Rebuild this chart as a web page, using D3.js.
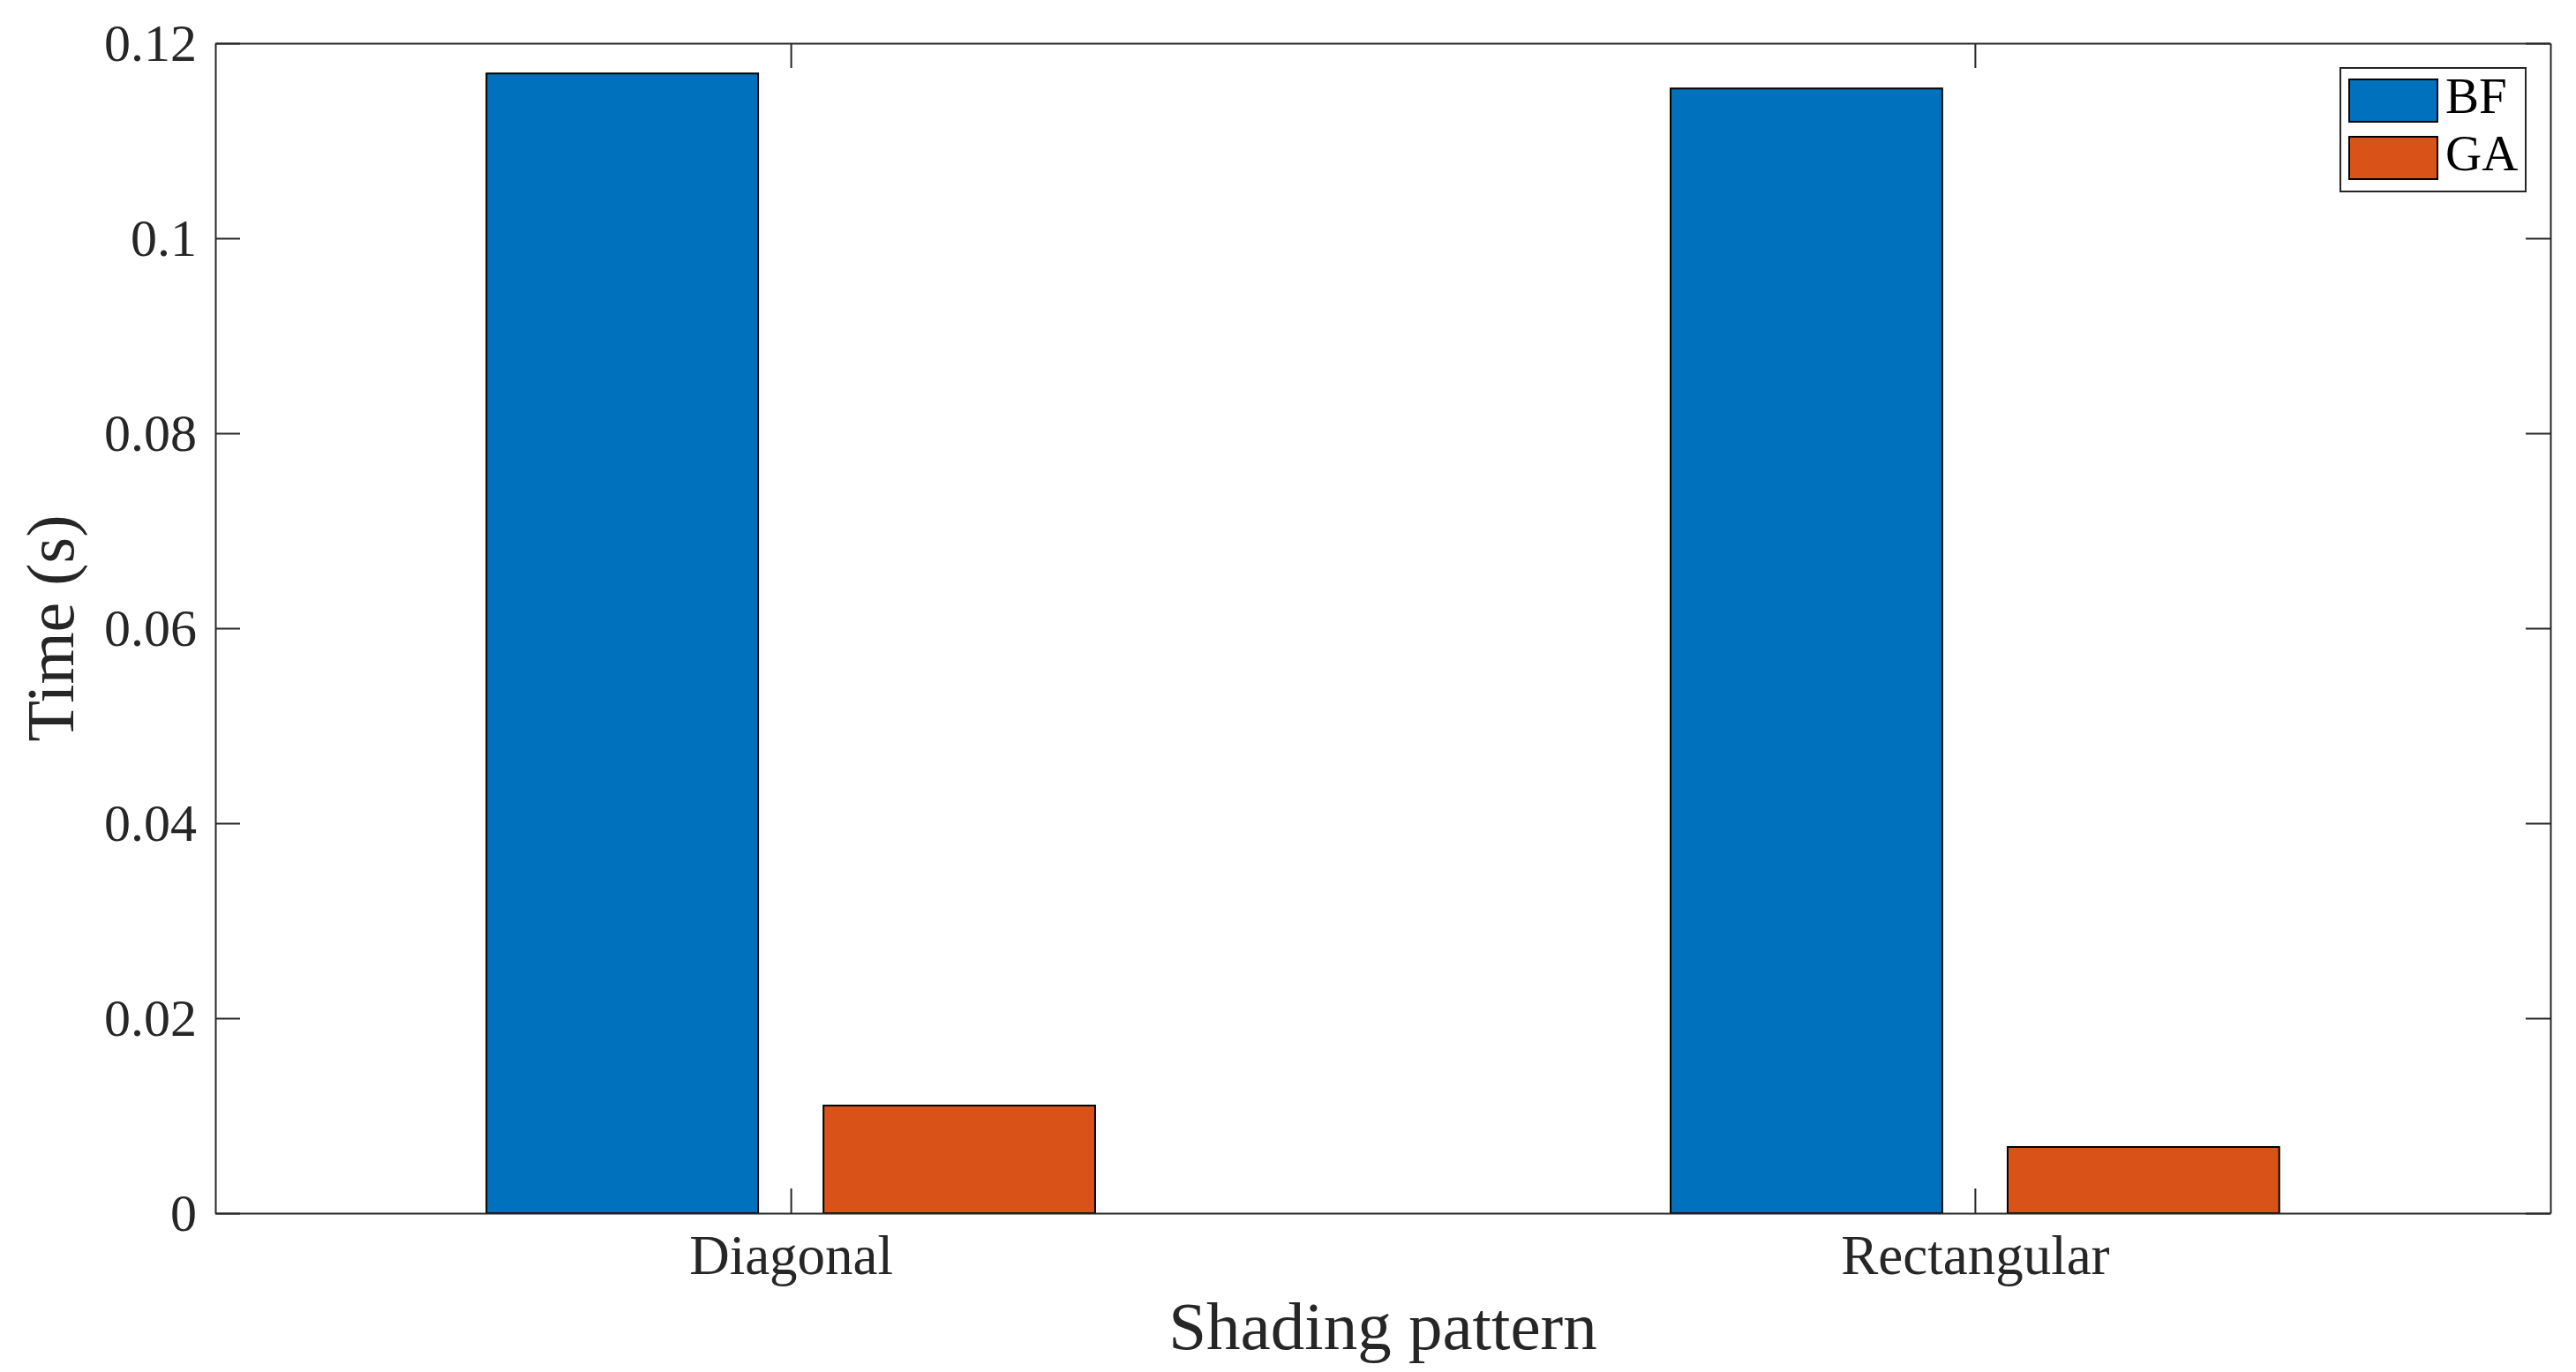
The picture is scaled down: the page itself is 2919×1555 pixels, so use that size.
<!DOCTYPE html>
<html>
<head>
<meta charset="utf-8">
<script src="https://cdn.jsdelivr.net/npm/d3@7"></script>
<style>
  body { margin: 0; background: #fff; }
  text { font-family: "Liberation Serif", "Times New Roman", serif; }
</style>
</head>
<body>
<div id="chart"></div>
<script>
var categories = ['Diagonal', 'Rectangular'];
var seriesNames = ['BF', 'GA'];
var bfTimes = [0.1169, 0.11536];
var gaTimes = [0.01104, 0.00679];
var yTicks = [0, 0.02, 0.04, 0.06, 0.08, 0.1, 0.12];
var yTickLabels = ['0', '0.02', '0.04', '0.06', '0.08', '0.1', '0.12'];

var svgWidth = 2919;
var svgHeight = 1555;
var margin = {top: 49, right: 29, bottom: 180, left: 244};
var plotW = svgWidth - margin.left - margin.right;
var plotH = svgHeight - margin.top - margin.bottom;
var axisColor = '#262626';
var colors = ['#0072BD', '#D95319'];
var tickLen = 28;

var svg = d3.select('#chart')
    .append('svg')
    .attr('width', svgWidth)
    .attr('height', svgHeight);

var plot = svg.append('g')
    .attr('transform', 'translate(' + margin.left + ',' + margin.top + ')');

var x = d3.scalePoint()
    .domain(categories)
    .range([0, plotW])
    .padding(0.486);

var step = x.step();
var sub = d3.scaleBand()
    .domain(seriesNames)
    .range([-0.257 * step, 0.257 * step])
    .paddingInner(0.194);

var y = d3.scaleLinear()
    .domain([0, 0.12])
    .range([plotH, 0]);

var rows = categories.map(function(c, i) {
    return {cat: c, values: [bfTimes[i], gaTimes[i]]};
});

// bars
var groups = plot.selectAll('g.group')
    .data(rows)
    .enter()
    .append('g')
    .attr('class', 'group')
    .attr('transform', function(d) { return 'translate(' + x(d.cat) + ',0)'; });

groups.selectAll('rect')
    .data(function(d) {
        return d.values.map(function(v, j) { return {name: seriesNames[j], value: v, idx: j}; });
    })
    .enter()
    .append('rect')
    .attr('x', function(d) { return sub(d.name); })
    .attr('width', sub.bandwidth())
    .attr('y', function(d) { return y(d.value); })
    .attr('height', function(d) { return plotH - y(d.value); })
    .attr('fill', function(d) { return colors[d.idx]; })
    .attr('stroke', '#000')
    .attr('stroke-width', 2);

// axes (MATLAB box style, ticks pointing in)
function styleAxis(g, fontSize) {
    g.selectAll('path.domain').attr('stroke', axisColor).attr('stroke-width', 2);
    g.selectAll('.tick line').attr('stroke', axisColor).attr('stroke-width', 2);
    g.selectAll('.tick text')
        .attr('fill', axisColor)
        .style('font-size', fontSize + 'px')
        .style('font-family', '"Liberation Serif", serif');
}

var yAxis = d3.axisLeft(y)
    .tickValues(yTicks)
    .tickFormat(function(d, i) { return yTickLabels[i]; })
    .tickSize(-tickLen)
    .tickSizeOuter(0)
    .tickPadding(21);
plot.append('g').call(yAxis).call(styleAxis, 60);

plot.append('g')
    .attr('transform', 'translate(' + plotW + ',0)')
    .call(d3.axisRight(y).tickValues(yTicks).tickFormat('').tickSize(-tickLen).tickSizeOuter(0))
    .call(styleAxis, 60);

var xAxis = d3.axisBottom(x)
    .tickSize(-tickLen)
    .tickSizeOuter(0)
    .tickPadding(24);
plot.append('g')
    .attr('transform', 'translate(0,' + plotH + ')')
    .call(xAxis)
    .call(styleAxis, 63);

plot.append('g')
    .call(d3.axisTop(x).tickFormat('').tickSize(-tickLen).tickSizeOuter(0))
    .call(styleAxis, 60);

// axis labels
svg.append('text')
    .attr('x', margin.left + plotW / 2)
    .attr('y', 1529)
    .attr('text-anchor', 'middle')
    .attr('fill', axisColor)
    .style('font-size', '77px')
    .text('Shading pattern');

svg.append('text')
    .attr('transform', 'translate(83,' + (margin.top + plotH / 2) + ') rotate(-90)')
    .attr('text-anchor', 'middle')
    .attr('fill', axisColor)
    .style('font-size', '76px')
    .text('Time (s)');

// legend
var legW = 210, legH = 140;
var legend = plot.append('g')
    .attr('transform', 'translate(' + (plotW - 28 - legW) + ',28)');

legend.append('rect')
    .attr('width', legW)
    .attr('height', legH)
    .attr('fill', '#fff')
    .attr('stroke', axisColor)
    .attr('stroke-width', 2);

var items = legend.selectAll('g.item')
    .data(seriesNames)
    .enter()
    .append('g')
    .attr('class', 'item')
    .attr('transform', function(d, i) { return 'translate(10,' + (13 + i * 65) + ')'; });

items.append('rect')
    .attr('width', 100)
    .attr('height', 48)
    .attr('fill', function(d, i) { return colors[i]; })
    .attr('stroke', '#000')
    .attr('stroke-width', 2);

items.append('text')
    .attr('x', 109)
    .attr('y', 38)
    .attr('fill', '#000')
    .style('font-size', '57px')
    .text(function(d) { return d; });
</script>
</body>
</html>
